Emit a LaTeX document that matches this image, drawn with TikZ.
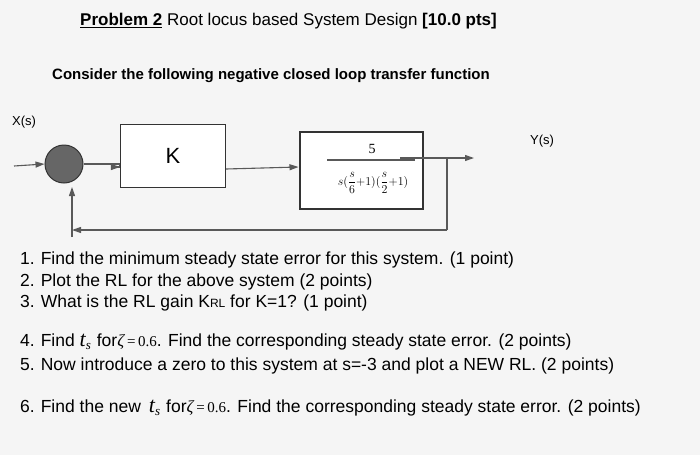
\documentclass[tikz,border=0pt]{standalone}
\usepackage{fontspec}
\setmainfont{Liberation Sans}
\newfontfamily\serif{Liberation Serif}
\usetikzlibrary{arrows.meta}
\begin{document}
\begin{tikzpicture}[x=1pt,y=-1pt,
  txt/.style={anchor=west,inner sep=0pt,font=\fontsize{17.5}{20}\selectfont},
  wire/.style={draw=black!65,line width=1.1pt},
  arr/.style={wire,-{Triangle[length=9pt,width=6pt]}},
  blk/.style={draw=black!80,line width=1.2pt,fill=white}]
\fill[gray!8] (0,0) rectangle (700,455);
\useasboundingbox (0,0) rectangle (700,455);
\node[txt,font=\fontsize{17}{20}\selectfont] (title) at (80,21) {\textbf{\underline{Problem 2}} Root locus based System Design \textbf{[10.0 pts]}};
\node[txt,font=\bfseries\fontsize{15}{17}\selectfont] (cons) at (52,76) {Consider the following negative closed loop transfer function};
\node[txt,font=\fontsize{13}{15}\selectfont] (xs) at (12,122) {X(s)};
\node[txt,font=\fontsize{13}{15}\selectfont] (ys) at (530,141) {Y(s)};
\node[circle,draw=black!80,fill=black!60,minimum size=38pt,line width=1pt] (sum) at (64,164) {};
\node[blk,minimum width=105pt,minimum height=63pt] (K) at (173,156) {\fontsize{22}{24}\selectfont K};
\node[blk,line width=2pt,minimum width=123pt,minimum height=77pt] (G) at (361,170) {};
\node[inner sep=0pt,font=\serif\fontsize{14}{16}\selectfont] (num) at (372,149) {5};
\node[inner sep=0pt,font=\fontsize{13}{15}\selectfont] (den) at (373,183) {$\displaystyle s(\frac{s}{6}{+}1)(\frac{s}{2}{+}1)$};
\coordinate (in) at (14,166);
\coordinate (out) at (474,158);
\coordinate (br) at (447,158);
\coordinate (fb1) at (447,230);
\coordinate (fb2) at (72,230);
\coordinate (fb3) at (72,237);
\draw[wire] (327,160) -- (415,160);
\draw[arr] (in) -- (sum.west);
\draw[arr] (sum.east) -- ++(36,0) |- (K.west |- 0,167);
\draw[arr] (K.east |- 0,169) -- (G.west |- 0,167);
\draw[arr] (400,158) -- (out);
\draw[wire] (br) -- (fb1);
\draw[arr] (fb1) -- (fb2);
\draw[arr] (fb3) -- (72,187);
\begin{scope}[every node/.style={txt}]
\node (q1) at (20,260) {1.\hspace{6pt}Find the minimum steady state error for this system. (1 point)};
\node (q2) at (20,282) {2.\hspace{6pt}Plot the RL for the above system (2 points)};
\node (q3) at (20,303) {3.\hspace{6pt}What is the RL gain K{\fontsize{12}{14}\selectfont RL} for K=1? (1 point)};
\node (q4) at (20,342) {4.\hspace{6pt}Find {\serif\fontsize{22}{22}\selectfont\itshape t\raisebox{-3pt}{\fontsize{13}{13}\selectfont s}}\hspace{6pt}for{\serif\itshape\fontsize{17}{17}\selectfont ζ}\,{\serif\fontsize{15}{15}\selectfont =\,0.6}. Find the corresponding steady state error. (2 points)};
\node (q5) at (20,366) {5.\hspace{6pt}Now introduce a zero to this system at s=-3 and plot a NEW RL. (2 points)};
\node (q6) at (20,408) {6.\hspace{6pt}Find the new\hspace{8pt}{\serif\fontsize{22}{22}\selectfont\itshape t\raisebox{-3pt}{\fontsize{13}{13}\selectfont s}}\hspace{6pt}for{\serif\itshape\fontsize{17}{17}\selectfont ζ}\,{\serif\fontsize{15}{15}\selectfont =\,0.6}. Find the corresponding steady state error. (2 points)};
\end{scope}
\end{tikzpicture}
\end{document}
